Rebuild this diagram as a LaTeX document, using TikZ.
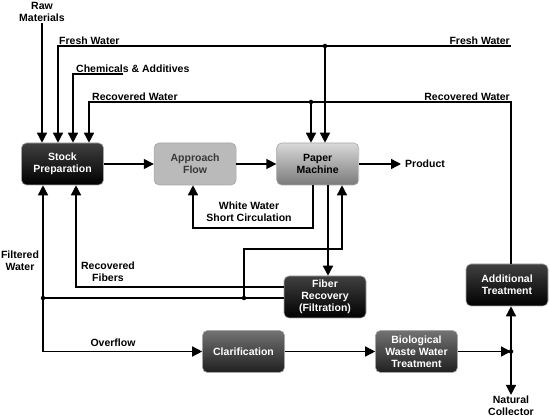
\documentclass[tikz,border=0pt]{standalone}
\usepackage{fontspec}
\setsansfont{Liberation Sans}
\usetikzlibrary{positioning,arrows.meta}

\begin{document}
\begin{tikzpicture}[x=1pt, y=-1pt, node distance=50pt,
  every node/.style={font=\sffamily\bfseries\fontsize{10.5}{12}\selectfont, align=center, inner sep=1pt},
  pipe/.style={line width=1.4pt},
  flow/.style={pipe, -{Triangle[length=10pt,width=10pt]}},
  unit/.style={rounded corners=5pt, minimum width=82pt, minimum height=42pt, inner sep=2pt, text=white, draw=black!35, line width=0.6pt},
  darkunit/.style={unit, top color=black!75, bottom color=black},
  greyunit/.style={unit, top color=black!55, bottom color=black!88},
  junction/.style={circle, fill, inner sep=0pt, minimum size=4.5pt}]
\useasboundingbox (0,0) rectangle (550,417);

% process units
\node[darkunit] (stock) at (62.5,164) {Stock\\Preparation};
\node[unit, fill=black!27, draw=black!35, text=black!78, right=50pt of stock] (approach) {Approach\\Flow};
\node[unit, top color=black!15, bottom color=black!52, text=black, right=40pt of approach] (paper) {Paper\\Machine};
\node[darkunit] (fiber) at (325,297) {Fiber\\Recovery\\(Filtration)};
\node[darkunit] (treat) at (507,285) {Additional\\Treatment};
\node[greyunit] (clar) at (243.5,351.5) {Clarification};
\node[greyunit] (bio) at (416.5,351.5) {Biological\\Waste Water\\Treatment};

% pipe corners
\coordinate (fwL) at (58,46);
\coordinate (fwR) at (511,46);
\coordinate (fwJ) at (325,46);
\coordinate (chL) at (73,74);
\coordinate (chR) at (123,74);
\coordinate (rwL) at (89,102);
\coordinate (rwR) at (511,102);
\coordinate (rwJ) at (311,102);
\coordinate (wwR) at (313,228);
\coordinate (wwL) at (193,228);
\coordinate (pf) at (328,0);
\coordinate (retR) at (342,249);
\coordinate (retL) at (244,249);
\coordinate (retJ) at (244,298);
\coordinate (rfL) at (76,287);
\coordinate (filJ) at (43,298);
\coordinate (outJ) at (511,351.5);

% labels
\node (raw) at (42,12) {Raw\\Materials};
\node[anchor=south west] (fwlabelL) at (fwL) {Fresh Water};
\node[anchor=south east] (fwlabelR) at (fwR) {Fresh Water};
\node[anchor=south west] (chlabel) at ([xshift=2pt]chL) {Chemicals \& Additives};
\node[anchor=south west] (rwlabelL) at ([xshift=2pt]rwL) {Recovered Water};
\node[anchor=south east] (rwlabelR) at (rwR) {Recovered Water};
\node[anchor=west, inner sep=0pt] (prod) at (405,164) {Product};
\node (wwlabel) at (249,212) {White Water\\Short Circulation};
\node (fillabel) at (20,261) {Filtered\\Water};
\node (rflabel) at (108,272) {Recovered\\Fibers};
\node (ovlabel) at (113,343) {Overflow};
\node (nat) at (511,406) {Natural\\Collector};

% feeds into stock preparation
\draw[flow] (raw.south) -- (raw.south |- stock.north);
\draw[flow] (fwR) -- (fwL) -- (fwL |- stock.north);
\draw[flow] (chR) -- (chL) -- (chL |- stock.north);
\draw[flow] (treat.north -| rwR) -- (rwR) -- (rwL) -- (rwL |- stock.north);
\draw[flow] (fwJ) -- (fwJ |- paper.north);
\draw[flow] (rwJ) -- (rwJ |- paper.north);

% main line
\draw[flow] (stock) -- (approach);
\draw[flow] (approach) -- (paper);
\draw[flow] (paper.east) -- ([xshift=-4pt]prod.west);

% white water and fibers
\draw[flow] (wwR |- paper.south) -- (wwR) -- (wwL) -- (wwL |- approach.south);
\draw[flow] (pf |- paper.south) -- (pf |- fiber.north);
\draw[flow] (retJ) -- (retL) -- (retR) -- (retR |- paper.south);
\draw[flow] (rfL -| fiber.west) -- (rfL) -- (rfL |- stock.south);
\draw[flow] (filJ -| fiber.west) -- (filJ) -- (filJ |- stock.south);

% waste water
\draw[flow] (filJ) -- (filJ |- clar.west) -- (clar.west);
\draw[flow] (clar) -- (bio);
\draw[flow] (bio) -- (outJ);
\draw[flow] (outJ) -- (outJ |- treat.south);
\draw[flow] (outJ) -- (nat.north);

% junctions
\foreach \j in {fwJ, rwJ, retJ, filJ, outJ}
  \node[junction] at (\j) {};
\end{tikzpicture}
\end{document}
